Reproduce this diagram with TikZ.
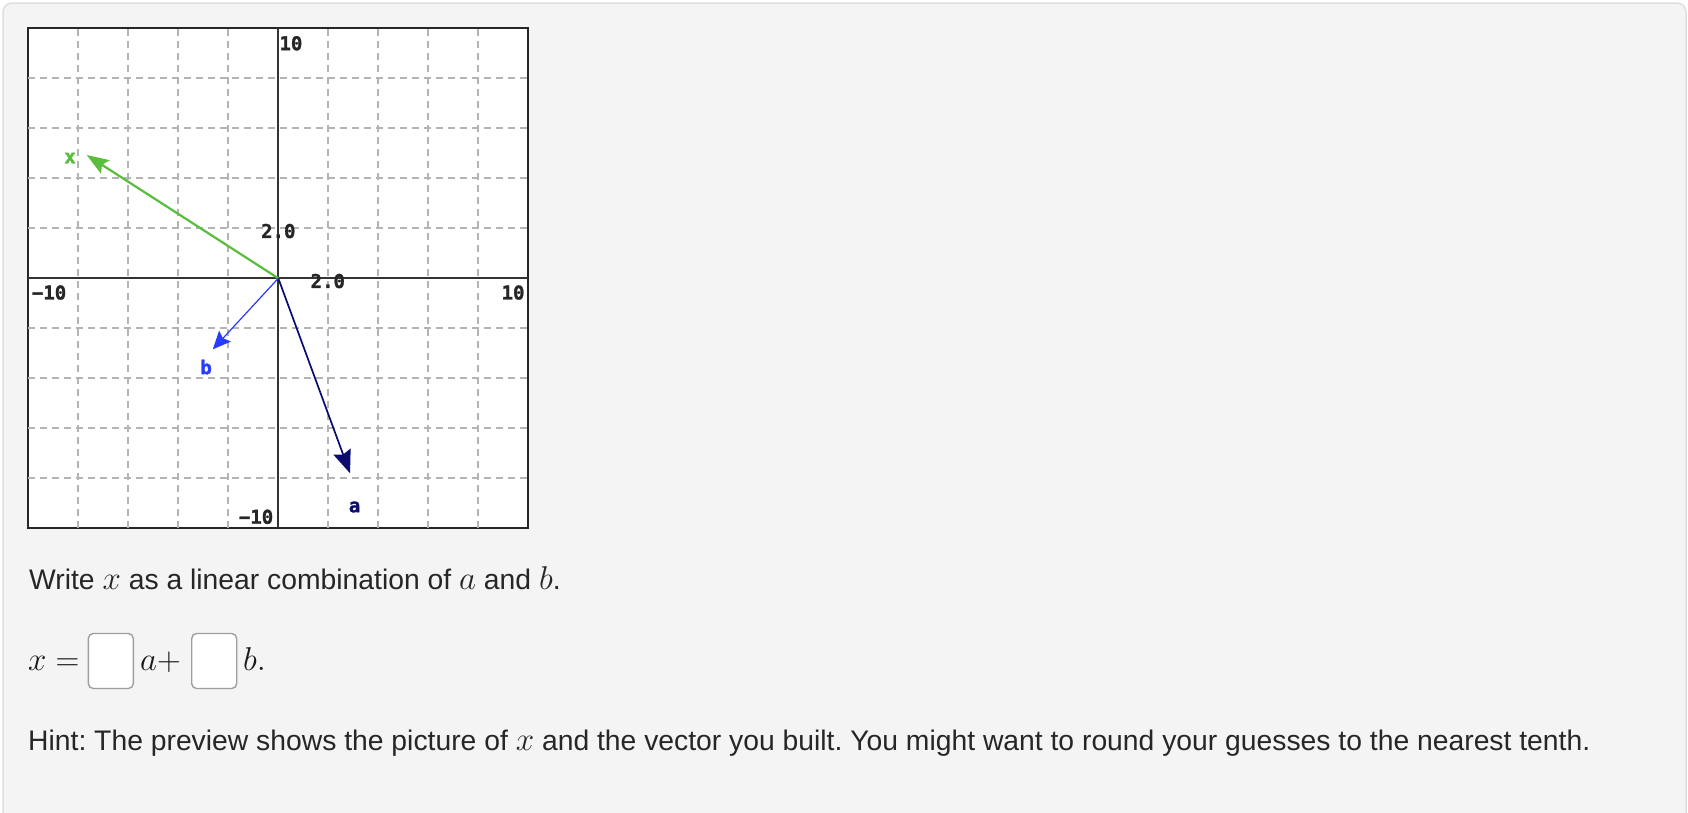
\documentclass[tikz,border=0pt]{standalone}
\usepackage{fix-cm}
\usepackage[no-math]{fontspec}
\usepackage{amsmath}
\usepackage{xcolor}
\usepackage{tikz}
\setmainfont{Liberation Sans}
\newfontfamily\plotfont[BoldFont={DejaVu Sans Mono Bold}, BoldFeatures={FakeBold=1.5}]{DejaVu Sans Mono}
\usetikzlibrary{arrows.meta, positioning, calc}
\definecolor{panelbg}{HTML}{F4F4F4}
\definecolor{panelline}{HTML}{DEDEDE}
\definecolor{gridgray}{HTML}{B4B4B4}
\definecolor{vecx}{RGB}{88,190,60}
\definecolor{vecb}{RGB}{40,60,255}
\definecolor{veca}{RGB}{12,12,110}
\newcommand{\mv}[1]{{\fontsize{33pt}{40pt}\selectfont$#1$}}
\newcommand{\mneg}{\char"2212\relax}
\tikzstyle{txt} = [inner sep=0pt, anchor=base west, text=black!85, font=\fontsize{28.3pt}{34pt}\selectfont\frenchspacing]
\tikzstyle{eqn} = [inner sep=0pt, anchor=base west, text=black!90, font=\fontsize{33pt}{40pt}\selectfont]
\tikzstyle{ansbox} = [draw=gray!75, fill=white, line width=1.4pt, rounded corners=5pt, minimum width=45pt, minimum height=55pt, inner sep=0pt]
\tikzstyle{ticklbl} = [inner sep=0pt, text=black!85, font=\plotfont\bfseries\fontsize{19pt}{21pt}\selectfont]
\tikzstyle{vec} = [->, >={Stealth[length=22pt, width=16pt, inset=4pt]}]

\begin{document}
\begin{tikzpicture}[x=1pt, y=-1pt]
\useasboundingbox (0,0) rectangle (1688,812);
\clip (0,0) rectangle (1688,812);
% panel
\draw[draw=panelline, fill=panelbg, line width=1.5pt, rounded corners=9pt] (3,3) rectangle (1686,840);

% graph, in plot units
\begin{scope}[shift={(278.3,278.3)}, x=25pt, y=25pt]
\draw[fill=white, draw=black!85, line width=2pt] (-10,-10) rectangle (10,10);
\foreach \g in {-8,-6,-4,-2,2,4,6,8} {
    \draw[gridgray, line width=2pt, dash pattern=on 7pt off 5pt] (\g,-10) -- (\g,10);
    \draw[gridgray, line width=2pt, dash pattern=on 7pt off 5pt] (-10,\g) -- (10,\g);
}
\draw[black!80, line width=2pt] (-10,0) -- (10,0);
\draw[black!80, line width=2pt] (0,-10) -- (0,10);
\coordinate (O) at (0,0);
\coordinate (xtip) at (-7.66,4.93);
\coordinate (atip) at (2.87,-7.8);
\coordinate (btip) at (-2.62,-2.84);
\draw[vec, vecx, line width=2.2pt] (O) -- (xtip);
\draw[vec, veca, line width=1.7pt, >={Stealth[length=23pt, width=18pt, inset=3pt]}] (O) -- (atip);
\draw[vec, vecb, line width=1.2pt, >={Stealth[length=18pt, width=16pt, inset=3pt]}] (O) -- (btip);
% labels
\node[ticklbl, anchor=west] (ytop) at (0.04,9.4) {10};
\node[ticklbl] (ytwo) at (0,1.89) {2.0};
\node[ticklbl] (xtwo) at (1.98,-0.11) {2.0};
\node[ticklbl] (xleft) at (-9.17,-0.57) {\mneg10};
\node[ticklbl] (xright) at (9.39,-0.57) {10};
\node[ticklbl] (ybot) at (-0.89,-9.54) {\mneg10};
\node[ticklbl, text=vecx] (xlbl) at (-8.33,4.81) {x};
\node[ticklbl, text=veca] (albl) at (3.05,-9.15) {a};
\node[ticklbl, text=vecb] (blbl) at (-2.89,-3.55) {b};
\end{scope}

% question text
\node[txt] (ask) at (29,589) {Write \mv{x} as a linear combination of \mv{a} and \mv{b}.};
\node[eqn] (lhs) at (28,670) {$x =$};
\node[ansbox] (box1) at (110.8,661) {};
\node[eqn] (ta) at (140,670) {$a+$};
\node[ansbox] (box2) at (214.2,661) {};
\node[eqn] (tb) at (243,670) {$b.$};
\node[txt] (hint) at (28,750) {Hint: The preview shows the picture of \mv{x} and the vector you built. You might want to round your guesses to the nearest tenth.};
\end{tikzpicture}
\end{document}
